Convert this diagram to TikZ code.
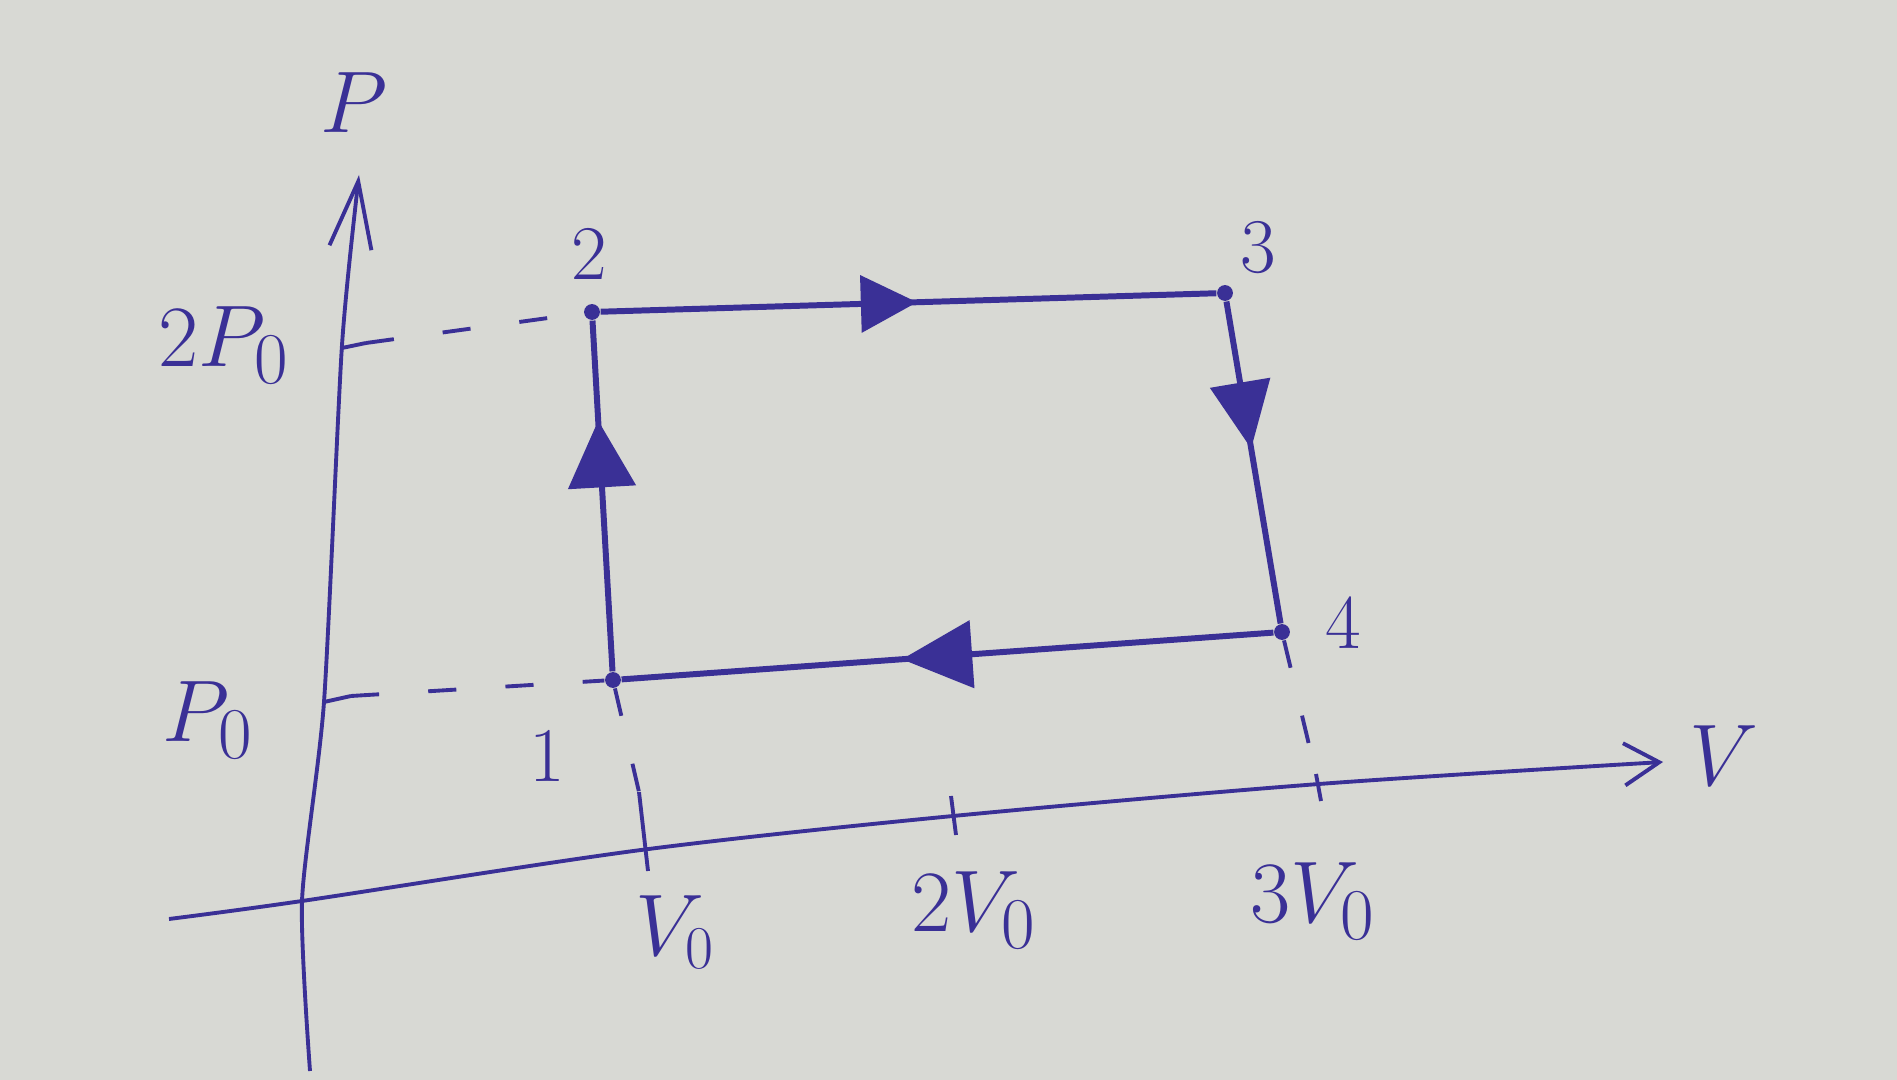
\documentclass[tikz,border=0pt]{standalone}
\usetikzlibrary{arrows.meta,decorations.markings}
\definecolor{ink}{RGB}{58,48,150}
\definecolor{paper}{RGB}{216,217,212}
\tikzset{
 pt/.style={circle,fill=ink,inner sep=0pt,minimum size=4.5pt},
 numlbl/.style={text=ink,font=\fontsize{22}{24}\selectfont},
 axlbl/.style={text=ink,font=\fontsize{30}{32}\selectfont},
 smlbl/.style={text=ink,font=\fontsize{24}{26}\selectfont},
 proc/.style={draw=ink,line width=1.7pt},
 axisline/.style={draw=ink,line width=1.1pt},
 dsh/.style={draw=ink,line width=1.1pt,dash pattern=on 8pt off 14pt},
 flowmark/.style n args={3}{postaction={decorate},decoration={markings,mark=at position #1 with {\arrow{Triangle[length=#2,width=#3]}}}}
}
\begin{document}
\begin{tikzpicture}[x=0.01cm,y=0.01cm]
\fill[paper] (0,0) rectangle (1897,-1080);
\useasboundingbox (0,0) rectangle (1897,-1080);

% P axis
\coordinate (pa0) at (310,-1071);
\coordinate (orig) at (302,-901);
\coordinate (pa2) at (324,-702);
\coordinate (pa3) at (342,-345);
\coordinate (ptip) at (359,-175);
\draw[axisline,-{Straight Barb[length=19pt,width=12pt]}] plot[smooth,tension=0.4] coordinates {(pa0) (orig) (pa2) (pa3) (ptip)};

% V axis
\coordinate (va0) at (169,-919);
\coordinate (va2) at (641,-850);
\coordinate (va3) at (953,-816);
\coordinate (va4) at (1319,-784);
\coordinate (vtip) at (1663,-762);
\draw[axisline,-{Straight Barb[length=10pt,width=12pt]}] plot[smooth,tension=0.5] coordinates {(va0) (orig) (va2) (va3) (va4) (vtip)};

% ticks on P axis
\coordinate (t2a) at (342,-348);
\coordinate (t2b) at (366,-343);
\coordinate (t1a) at (324,-702);
\coordinate (t1b) at (351,-696);
\draw[axisline] (t2a) -- (t2b);
\draw[axisline] (t1a) -- (t1b);

% ticks on V axis
\coordinate (tv1a) at (639,-792);
\coordinate (tv1b) at (648,-871);
\coordinate (tv2a) at (951,-796);
\coordinate (tv2b) at (956,-835);
\coordinate (tv3a) at (1316,-774);
\coordinate (tv3b) at (1321,-801);
\draw[axisline] (tv1a) -- (tv1b);
\draw[axisline] (tv2a) -- (tv2b);
\draw[axisline] (tv3a) -- (tv3b);

% state points
\node[pt] (p1) at (613,-680) {};
\node[pt] (p2) at (592,-312) {};
\node[pt] (p3) at (1225,-293) {};
\node[pt] (p4) at (1282,-632) {};

% dashed guides
\draw[dsh] (t2b) -- (p2);
\draw[dsh] (t1b) -- (p1);
\draw[dsh] (p1) -- (tv1a);
\draw[dsh] (p4) -- (tv3a);

% process lines
\draw[proc,flowmark={0.715}{19pt}{19pt}] (p1) -- (p2);
\draw[proc,flowmark={0.514}{16pt}{16pt}] (p2) -- (p3);
\draw[proc,flowmark={0.457}{19pt}{17pt}] (p3) -- (p4);
\draw[proc,flowmark={0.57}{20pt}{19pt}] (p4) -- (p1);

% point labels
\node[numlbl] (l1) at (547,-756) {1};
\node[numlbl] (l2) at (589,-254) {2};
\node[numlbl] (l3) at (1258,-248) {3};
\node[numlbl] (l4) at (1343,-623) {4};

% axis labels
\node[axlbl] (lP) at (354,-103) {$P$};
\node[axlbl] (lV) at (1724,-756) {$V$};
\node[axlbl] (l2P) at (224,-345) {$2P_0$};
\node[axlbl] (lP0) at (208,-720) {$P_0$};
\node[smlbl] (lV0) at (675,-932) {$V_0$};
\node[axlbl] (l2V) at (974,-910) {$2V_0$};
\node[axlbl] (l3V) at (1313,-901) {$3V_0$};
\end{tikzpicture}
\end{document}
